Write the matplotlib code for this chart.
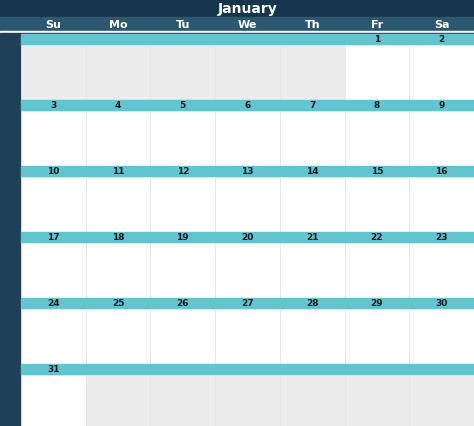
import matplotlib.pyplot as plt
from matplotlib.patches import Rectangle

month = 'January'
days = ['Su', 'Mo', 'Tu', 'We', 'Th', 'Fr', 'Sa']
first_weekday = 5   # Friday
n_days = 31

W, H = 474, 426
fig = plt.figure(figsize=(W / 100, H / 100), dpi=100)
ax = fig.add_axes([0, 0, 1, 1])
ax.set_xlim(0, W)
ax.set_ylim(H, 0)
ax.axis('off')

x0 = 21
cw = (W - x0) / 7
top = 34
period = 66
strip = 11

# side bar and header
ax.add_patch(Rectangle((0, 0), x0, H, color='#1f4157'))
ax.add_patch(Rectangle((0, 0), W, 17, color='#15354b'))
ax.add_patch(Rectangle((0, 17), W, 14, color='#2b5870'))
ax.add_patch(Rectangle((0, 31), W, 2, color='white'))
ax.add_patch(Rectangle((0, 33), W, 1, color='#1f4157'))
ax.text((x0 + W) / 2, 9, month, color='white', fontsize=10, fontweight='bold',
        ha='center', va='center')
for i, d in enumerate(days):
    ax.text(x0 + (i + 0.5) * cw, 24.5, d, color='white', fontsize=8,
            fontweight='bold', ha='center', va='center')

n_weeks = 6
for w in range(n_weeks):
    y = top + w * period
    ax.add_patch(Rectangle((x0, y), W - x0, strip, color='#63c3cf'))
    for c in range(7):
        day = w * 7 + c - first_weekday + 1
        valid = 1 <= day <= n_days
        ax.add_patch(Rectangle((x0 + c * cw, y + strip), cw, period - strip,
                               facecolor='white' if valid else '#ececec',
                               edgecolor='#e6e6e6', lw=0.6))
        if valid:
            ax.text(x0 + (c + 0.5) * cw, y + strip / 2 + 0.5, str(day),
                    color='#1a1a1a', fontsize=6.5, fontweight='bold',
                    ha='center', va='center')

fig.savefig('out.png', dpi=100)
